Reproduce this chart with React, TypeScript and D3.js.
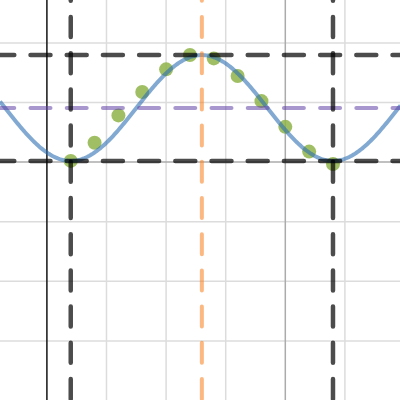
import { useEffect, useRef } from "react"
import * as d3 from "d3"

// monthly daylight hours (month 1..12)
const months = [1, 2, 3, 4, 5, 6, 7, 8, 9, 10, 11, 12];
const daylight = [10.05, 10.81, 11.96, 12.94, 13.89, 14.49, 14.35, 13.61, 12.56, 11.48, 10.44, 9.92];

// visible window in graph units
const xDomain = [-1.967, 14.811];
const yDomain = [0.021, 16.8];

// grid
const xMinorGrid = [2.5, 5, 7.5, 12.5];
const xMajorGrid = [10];
const yMinorGrid = [2.5, 5, 7.5, 12.5, 15];
const yMajorGrid = [10];

// fitted cosine model and guide lines
const maxValue = 14.49;
const minValue = 10.05;
const midValue = (maxValue + minValue) / 2;
const period = 11;
const peakMonth = 6.5;
const minMonths = [1, 12];

export default function App() {
  const svgRef = useRef<SVGSVGElement>(null);

  useEffect(() => {
    if (!svgRef.current) return;
    d3.select(svgRef.current).selectAll("*").remove();

    const width = 400;
    const height = 400;

    const svg = d3.select(svgRef.current)
      .attr("width", width)
      .attr("height", height);

    const x = d3.scaleLinear().domain(xDomain).range([0, width]);
    const y = d3.scaleLinear().domain(yDomain).range([height, 0]);

    svg.append("rect")
      .attr("width", width)
      .attr("height", height)
      .attr("fill", "#ffffff");

    // minor grid
    svg.selectAll(".gx")
      .data(xMinorGrid)
      .enter()
      .append("line")
      .attr("x1", d => x(d))
      .attr("x2", d => x(d))
      .attr("y1", 0)
      .attr("y2", height)
      .attr("stroke", "#dcdcdc")
      .attr("stroke-width", 1.5);

    svg.selectAll(".gy")
      .data(yMinorGrid)
      .enter()
      .append("line")
      .attr("x1", 0)
      .attr("x2", width)
      .attr("y1", d => y(d))
      .attr("y2", d => y(d))
      .attr("stroke", "#dcdcdc")
      .attr("stroke-width", 1.5);

    // major grid
    svg.selectAll(".mx")
      .data(xMajorGrid)
      .enter()
      .append("line")
      .attr("x1", d => x(d))
      .attr("x2", d => x(d))
      .attr("y1", 0)
      .attr("y2", height)
      .attr("stroke", "#ababab")
      .attr("stroke-width", 1.5);

    svg.selectAll(".my")
      .data(yMajorGrid)
      .enter()
      .append("line")
      .attr("x1", 0)
      .attr("x2", width)
      .attr("y1", d => y(d))
      .attr("y2", d => y(d))
      .attr("stroke", "#ababab")
      .attr("stroke-width", 1.5);

    // y axis
    svg.append("line")
      .attr("x1", x(0))
      .attr("x2", x(0))
      .attr("y1", 0)
      .attr("y2", height)
      .attr("stroke", "#222222")
      .attr("stroke-width", 1.6);

    // data points
    svg.selectAll("circle")
      .data(months.map((m, i) => ({ m, v: daylight[i] })))
      .enter()
      .append("circle")
      .attr("cx", d => x(d.m))
      .attr("cy", d => y(d.v))
      .attr("r", 7)
      .attr("fill", "#8fb449")
      .attr("opacity", 0.85);

    // cosine model
    const curve = d3.range(xDomain[0], xDomain[1] + 0.05, 0.05)
      .map(t => [t, midValue + (maxValue - midValue) * Math.cos(2 * Math.PI * (t - peakMonth) / period)] as [number, number]);

    svg.append("path")
      .attr("d", d3.line<[number, number]>()
        .x(d => x(d[0]))
        .y(d => y(d[1]))(curve) || "")
      .attr("fill", "none")
      .attr("stroke", "#2d70b3")
      .attr("stroke-opacity", 0.6)
      .attr("stroke-width", 4);

    const dash = "20 16.2";

    // horizontal guides
    const hLine = (v: number, color: string, opacity: number, w: number) => {
      svg.append("line")
        .attr("x1", 0)
        .attr("x2", width)
        .attr("y1", y(v))
        .attr("y2", y(v))
        .attr("stroke", color)
        .attr("stroke-opacity", opacity)
        .attr("stroke-width", w)
        .attr("stroke-linecap", "round")
        .attr("stroke-dasharray", dash)
        .attr("stroke-dashoffset", 5.7);
    };

    const vLine = (v: number, color: string, opacity: number, w: number) => {
      svg.append("line")
        .attr("x1", x(v))
        .attr("x2", x(v))
        .attr("y1", 0)
        .attr("y2", height)
        .attr("stroke", color)
        .attr("stroke-opacity", opacity)
        .attr("stroke-width", w)
        .attr("stroke-linecap", "round")
        .attr("stroke-dasharray", dash)
        .attr("stroke-dashoffset", 19.2);
    };

    hLine(midValue, "#6042a6", 0.55, 4);
    hLine(maxValue, "#000000", 0.7, 4.5);
    hLine(minValue, "#000000", 0.7, 4.5);
    minMonths.forEach(m => vLine(m, "#000000", 0.7, 4.5));
    vLine(peakMonth, "#fa7e19", 0.55, 4);
  }, []);

  return (
    <svg ref={svgRef} width="400" height="400"
      style={{ position: "fixed", left: 0, top: 0, display: "block" }}></svg>
  );
}
